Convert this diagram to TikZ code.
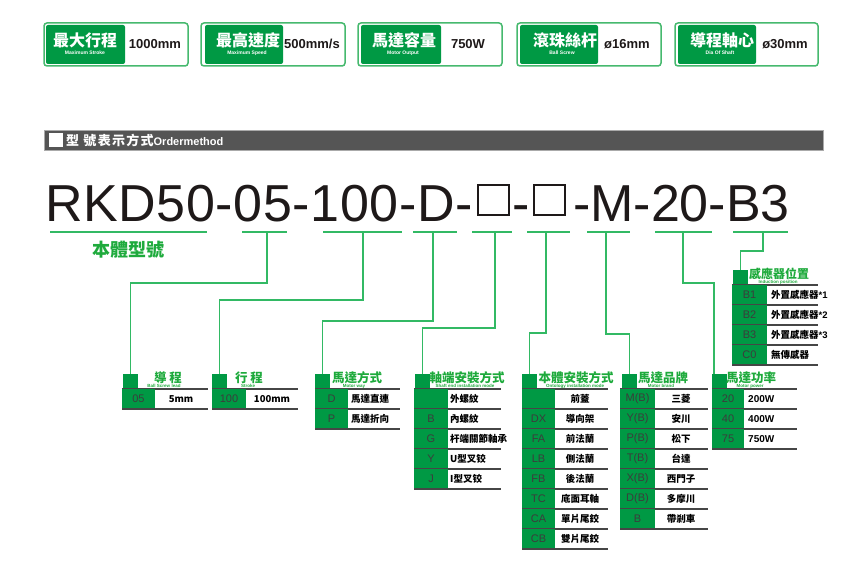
\documentclass[tikz,border=0pt]{standalone}
\usepackage{fontspec}
\setmainfont{Liberation Sans}
\newfontfamily\cjk{Noto Sans CJK TC}
\usetikzlibrary{calc}
\definecolor{dgreen}{RGB}{0,153,68}
\definecolor{lgreen}{RGB}{50,185,100}
\definecolor{bgreen}{RGB}{70,185,110}
\definecolor{tgreen}{RGB}{30,170,60}
\definecolor{barfill}{RGB}{85,85,85}
\definecolor{barline}{RGB}{170,170,170}
\definecolor{ink}{RGB}{30,25,25}
\definecolor{codegray}{RGB}{60,60,60}
\definecolor{linegray}{RGB}{70,70,70}
\tikzset{
  conn/.style={draw=lgreen, line width=1.4pt},
  uline/.style={draw=lgreen, line width=1.4pt},
  bborder/.style={draw=bgreen, line width=1.5pt, rounded corners=3pt, fill=white},
  bfill/.style={fill=dgreen, rounded corners=2pt},
  btitle/.style={text=white, font=\cjk\bfseries\fontsize{16}{17}\selectfont, inner sep=0},
  bsub/.style={text=white, font=\bfseries\fontsize{5}{6}\selectfont, inner sep=0},
  bval/.style={text=ink, font=\bfseries\fontsize{13}{14}\selectfont, inner sep=0},
  marker/.style={fill=dgreen, minimum width=15pt, minimum height=14pt, inner sep=0, anchor=south west},
  ttl/.style={text=tgreen, font=\cjk\bfseries\fontsize{12.5}{13}\selectfont, inner sep=0},
  tsub/.style={text=tgreen, font=\bfseries\fontsize{4.5}{5}\selectfont, inner sep=0},
  code/.style={text=codegray, font=\fontsize{11}{12}\selectfont, inner sep=0},
  cell/.style={text=black, font=\cjk\bfseries\fontsize{9.5}{10}\selectfont, inner sep=0},
  rowline/.style={draw=linegray, line width=1.2pt},
  big/.style={text=ink, font=\fontsize{52}{56}\selectfont, inner sep=0},
}
\begin{document}
\begin{tikzpicture}[x=1pt,y=-1pt]
\useasboundingbox (0,0) rectangle (859,583);
% ---------- badges ----------
\draw[bborder] (44,23) rectangle (188,66);
\fill[bfill] (46,25) rectangle (125,64);
\node[btitle] (bt1) at (85,40) {最大行程};
\node[bsub] (bs1) at (85,53) {Maximum Stroke};
\node[bval] (bv1) at (155,44) {1000mm};

\draw[bborder] (201,23) rectangle (345,66);
\fill[bfill] (205,25) rectangle (283,64);
\node[btitle] (bt2) at (248,40) {最高速度};
\node[bsub] (bs2) at (247,53) {Maximum Speed};
\node[bval] (bv2) at (312,44) {500mm/s};

\draw[bborder] (358,23) rectangle (502,66);
\fill[bfill] (361,25) rectangle (441,64);
\node[btitle] (bt3) at (404,40) {馬達容量};
\node[bsub] (bs3) at (403,53) {Motor Output};
\node[bval] (bv3) at (468,44) {750W};

\draw[bborder] (517,23) rectangle (661,66);
\fill[bfill] (520,25) rectangle (598,64);
\node[btitle] (bt4) at (565,40) {滾珠絲杆};
\node[bsub] (bs4) at (562,53) {Ball Screw};
\node[bval] (bv4) at (627,44) {ø16mm};

\draw[bborder] (675,23) rectangle (818,66);
\fill[bfill] (678,25) rectangle (756,64);
\node[btitle] (bt5) at (722,40) {導程軸心};
\node[bsub] (bs5) at (720,53) {Dia Of Shaft};
\node[bval] (bv5) at (785,44) {ø30mm};

% ---------- header bar ----------
\draw[fill=barfill, draw=barline, line width=0.8pt] (44,130) rectangle (823,150);
\fill[white] (49,133) rectangle (63,147);
\node[anchor=west, inner sep=0, text=white] (hdr) at (66,140)
  {{\cjk\bfseries\fontsize{13}{14}\selectfont\addfontfeatures{LetterSpace=10}型 號表示方式}{\bfseries\fontsize{11}{12}\selectfont Ordermethod}};

% ---------- big model code ----------
\node[big, anchor=base west, font=\fontsize{52}{56}\selectfont\addfontfeatures{LetterSpace=1.2}] (codeL) at (45,221) {RKD50-05-100-D-};
\draw[ink, line width=2.6pt] (478,185) rectangle (509,215);
\node[big, anchor=base] (dash1) at (521,221) {-};
\draw[ink, line width=2.6pt] (534,185) rectangle (565,215);
\node[big, anchor=base east] (codeR) at (790,221) {-M-20-B3};

% underlines
\draw[uline] (50,232) -- (207,232);
\draw[uline] (242,232) -- (287,232);
\draw[uline] (323,232) -- (402,232);
\draw[uline] (413,232) -- (457,232);
\draw[uline] (472,232) -- (512,232);
\draw[uline] (527,232) -- (570,232);
\draw[uline] (587,232) -- (630,232);
\draw[uline] (655,232) -- (712,232);
\draw[uline] (733,232) -- (788,232);
\coordinate (u2) at (267,232);
\coordinate (u3) at (363,232);
\coordinate (u4) at (433,232);
\coordinate (u5) at (495,232);
\coordinate (u6) at (546,232);
\coordinate (u7) at (606,232);
\coordinate (u8) at (683,232);
\coordinate (u9) at (763,232);

\node[text=tgreen, font=\cjk\bfseries\fontsize{18}{19}\selectfont, inner sep=0] (body) at (128,250) {本體型號};

% ---------- markers ----------
\node[marker] (m1) at (123,388) {};
\node[marker] (m2) at (212,388) {};
\node[marker] (m3) at (315,388) {};
\node[marker] (m4) at (415,388) {};
\node[marker] (m5) at (522,388) {};
\node[marker] (m6) at (622,388) {};
\node[marker] (m7) at (712,388) {};
\node[marker] (m8) at (733,284) {};
\coordinate (m7in) at ($(m7.north west)+(2,0)$);

% ---------- connectors ----------
\draw[conn] (u2) -- ++(0,51) -| (m1.north);
\draw[conn] (u3) -- ++(0,68) -| (m2.north);
\draw[conn] (u4) -- ++(0,89) -| (m3.north);
\draw[conn] (u5) -- ++(0,96) -| (m4.north);
\draw[conn] (u6) -- ++(0,101) -| (m5.north);
\draw[conn] (u7) -- ++(0,102) -| (m6.north);
\draw[conn] (u8) -- ++(0,51) -| (m7in);
\draw[conn] (u9) -- ++(0,19) -| (m8.north);

% ---------- table titles ----------
\node[ttl] (t1t) at (168,378) {導 程};
\node[tsub] (t1s) at (164,386) {Ball Screw lead};
\node[ttl] (t2t) at (249,378) {行 程};
\node[tsub] (t2s) at (248,386) {Stroke};
\node[ttl] (t3t) at (357,378) {馬達方式};
\node[tsub] (t3s) at (354,386) {Motor way};
\node[ttl] (t4t) at (467,378) {軸端安裝方式};
\node[tsub] (t4s) at (465,386) {Shaft end installation mode};
\node[ttl] (t5t) at (576,378) {本體安裝方式};
\node[tsub] (t5s) at (575,386) {Ontology installation mode};
\node[ttl] (t6t) at (663,378) {馬達品牌};
\node[tsub] (t6s) at (661,386) {Motor brand};
\node[ttl] (t7t) at (751,378) {馬達功率};
\node[tsub] (t7s) at (750,386) {Motor power};
\node[ttl, font=\cjk\bfseries\fontsize{12}{13}\selectfont] (t8t) at (779,274) {感應器位置};
\node[tsub] (t8s) at (778,282) {Induction position};

% ---------- tables ----------
% T1
\draw[rowline] (122,389) -- (208,389);
\foreach \c/\t [count=\i] in {05/5mm} {
  \fill[dgreen] (122,{389+20*(\i-1)}) rectangle (155,{389+20*\i});
  \draw[rowline] (122,{389+20*\i}) -- (208,{389+20*\i});
  \node[code] (ta\i) at (138.5,{399+20*(\i-1)}) {\c};
  \node[cell] (tb\i) at (181,{399+20*(\i-1)}) {\bfseries\t};
}
% T2
\draw[rowline] (212,389) -- (298,389);
\foreach \c/\t [count=\i] in {100/100mm} {
  \fill[dgreen] (212,{389+20*(\i-1)}) rectangle (246,{389+20*\i});
  \draw[rowline] (212,{389+20*\i}) -- (298,{389+20*\i});
  \node[code] (tc\i) at (229,{399+20*(\i-1)}) {\c};
  \node[cell] (td\i) at (272,{399+20*(\i-1)}) {\t};
}
% T3
\draw[rowline] (315,389) -- (400,389);
\foreach \c/\t [count=\i] in {D/馬達直連, P/馬達折向} {
  \fill[dgreen] (315,{389+20*(\i-1)}) rectangle (348,{389+20*\i});
  \draw[rowline] (315,{389+20*\i}) -- (400,{389+20*\i});
  \node[code] (te\i) at (331.5,{399+20*(\i-1)}) {\c};
  \node[cell, anchor=west] (tf\i) at (351,{399+20*(\i-1)}) {\t};
}
% T4
\draw[rowline] (414,389) -- (501,389);
\foreach \c/\t [count=\i] in {{}/外螺紋, B/內螺紋, G/杆端關節軸承, Y/U型叉铰, J/I型叉铰} {
  \fill[dgreen] (414,{389+20*(\i-1)}) rectangle (448,{389+20*\i});
  \draw[rowline] (414,{389+20*\i}) -- (501,{389+20*\i});
  \node[code] (tg\i) at (431,{399+20*(\i-1)}) {\c};
  \node[cell, anchor=west] (th\i) at (450,{399+20*(\i-1)}) {\t};
}
% T5
\draw[rowline] (522,389) -- (608,389);
\foreach \c/\t [count=\i] in {{}/前蓋, DX/導向架, FA/前法蘭, LB/側法蘭, FB/後法蘭, TC/底面耳軸, CA/單片尾鉸, CB/雙片尾鉸} {
  \fill[dgreen] (522,{389+20*(\i-1)}) rectangle (555,{389+20*\i});
  \draw[rowline] (522,{389+20*\i}) -- (608,{389+20*\i});
  \node[code] (ti\i) at (538.5,{399+20*(\i-1)}) {\c};
  \node[cell] (tj\i) at (580,{399+20*(\i-1)}) {\t};
}
% T6
\draw[rowline] (620,389) -- (708,389);
\foreach \c/\t [count=\i] in {M(B)/三菱, Y(B)/安川, P(B)/松下, T(B)/台達, X(B)/西門子, D(B)/多摩川, B/帶剎車} {
  \fill[dgreen] (620,{389+20*(\i-1)}) rectangle (655,{389+20*\i});
  \draw[rowline] (620,{389+20*\i}) -- (708,{389+20*\i});
  \node[code] (tk\i) at (637.5,{399+20*(\i-1)}) {\c};
  \node[cell] (tl\i) at (681,{399+20*(\i-1)}) {\t};
}
% T7
\draw[rowline] (712,389) -- (797,389);
\foreach \c/\t [count=\i] in {20/200W, 40/400W, 75/750W} {
  \fill[dgreen] (712,{389+20*(\i-1)}) rectangle (744,{389+20*\i});
  \draw[rowline] (712,{389+20*\i}) -- (797,{389+20*\i});
  \node[code] (tm\i) at (728,{399+20*(\i-1)}) {\c};
  \node[cell, anchor=west, font=\bfseries\fontsize{10}{11}\selectfont] (tn\i) at (748,{399+20*(\i-1)}) {\t};
}
% T8
\draw[rowline] (732,285) -- (818,285);
\foreach \c/\t [count=\i] in {B1/外置感應器{\rmfamily\bfseries *1}, B2/外置感應器{\rmfamily\bfseries *2}, B3/外置感應器{\rmfamily\bfseries *3}, C0/無傳感器} {
  \fill[dgreen] (732,{285+20*(\i-1)}) rectangle (767,{285+20*\i});
  \draw[rowline] (732,{285+20*\i}) -- (818,{285+20*\i});
  \node[code] (to\i) at (749.5,{295+20*(\i-1)}) {\c};
  \node[cell, anchor=west] (tp\i) at (771,{295+20*(\i-1)}) {\t};
}
\end{tikzpicture}
\end{document}
